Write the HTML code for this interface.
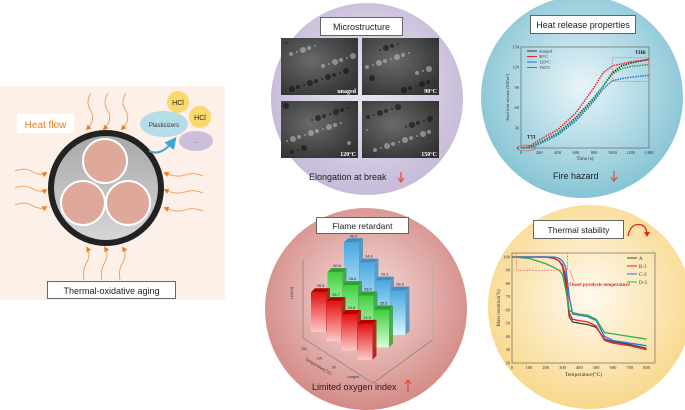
<!DOCTYPE html>
<html><head><meta charset="utf-8"><style>
html,body{margin:0;padding:0;background:#fff;width:685px;height:410px;overflow:hidden;font-family:"Liberation Sans",sans-serif}
svg{display:block}
</style></head><body>
<svg id="root" width="685" height="410" viewBox="0 0 685 410" xmlns="http://www.w3.org/2000/svg">
<defs>
<radialGradient id="gPurple" cx="50%" cy="45%" r="55%"><stop offset="0" stop-color="#ebe6f1"/><stop offset="1" stop-color="#c6bad8"/></radialGradient>
<radialGradient id="gTeal" cx="50%" cy="45%" r="55%"><stop offset="0" stop-color="#e8f5f8"/><stop offset="1" stop-color="#86c4d5"/></radialGradient>
<radialGradient id="gRed" cx="50%" cy="45%" r="55%"><stop offset="0" stop-color="#f6e0de"/><stop offset="1" stop-color="#d48a86"/></radialGradient>
<radialGradient id="gYel" cx="50%" cy="45%" r="55%"><stop offset="0" stop-color="#fffaf0"/><stop offset="1" stop-color="#f8d88c"/></radialGradient>
<radialGradient id="gSem" cx="40%" cy="40%" r="70%"><stop offset="0" stop-color="#6a6a6a"/><stop offset="1" stop-color="#333"/></radialGradient>
<linearGradient id="gCable" x1="0" y1="0" x2="0" y2="1"><stop offset="0" stop-color="#a9a9a9"/><stop offset="1" stop-color="#d6d6d6"/></linearGradient>
<linearGradient id="bR" x1="0" y1="0" x2="0" y2="1"><stop offset="0" stop-color="#e31010"/><stop offset="1" stop-color="#ffc8c8"/></linearGradient>
<linearGradient id="bG" x1="0" y1="0" x2="0" y2="1"><stop offset="0" stop-color="#3fcf3f"/><stop offset="1" stop-color="#d4ffd4"/></linearGradient>
<linearGradient id="bB" x1="0" y1="0" x2="0" y2="1"><stop offset="0" stop-color="#4aa8e0"/><stop offset="1" stop-color="#d8f4ff"/></linearGradient>
<marker id="ah" markerWidth="6" markerHeight="6" refX="4" refY="3" orient="auto"><path d="M0,0 L6,3 L0,6 z" fill="#ef7d22"/></marker>
<marker id="ahb" markerWidth="6" markerHeight="6" refX="4" refY="3" orient="auto"><path d="M0,0 L6,3 L0,6 z" fill="#3aa8d0"/></marker>
</defs>

<g>
<rect x="0" y="86" width="225" height="214" fill="#fcf0e8"/>
<g fill="none" stroke="#f29a55" stroke-width="0.9">
<path d="M91,93 q-6,10 0,18 q5,9 -4,18" marker-end="url(#ah)"/>
<path d="M108,93 q-6,10 0,18 q5,9 -4,18" marker-end="url(#ah)"/>
<path d="M126,93 q-6,10 0,18 q5,9 -4,18" marker-end="url(#ah)"/>
<path d="M15,171 q10,-4 18,1 q8,4 13,1" marker-end="url(#ah)"/>
<path d="M15,188 q10,-4 18,1 q8,4 13,1" marker-end="url(#ah)"/>
<path d="M15,205 q10,-4 18,1 q8,4 13,1" marker-end="url(#ah)"/>
<path d="M203,176 q-10,-4 -18,-1 q-8,3 -20,-2" marker-end="url(#ah)"/>
<path d="M203,193 q-10,-4 -18,-1 q-8,3 -20,-2" marker-end="url(#ah)"/>
<path d="M203,211 q-10,-4 -18,-1 q-8,3 -20,-2" marker-end="url(#ah)"/>
<path d="M84,280 q-2,-10 3,-18 q4,-8 0,-14" marker-end="url(#ah)"/>
<path d="M102,280 q-2,-10 3,-18 q4,-8 0,-14" marker-end="url(#ah)"/>
<path d="M120,280 q-2,-10 3,-18 q4,-8 0,-14" marker-end="url(#ah)"/>
</g>
<circle cx="106" cy="188" r="58" fill="#222"/>
<circle cx="106" cy="188" r="52" fill="url(#gCable)"/>
<circle cx="105" cy="161" r="22" fill="#dea99a" stroke="#fff" stroke-width="2"/>
<circle cx="83" cy="203" r="22" fill="#dea99a" stroke="#fff" stroke-width="2"/>
<circle cx="128" cy="203" r="22" fill="#dea99a" stroke="#fff" stroke-width="2"/>
<rect x="17" y="114" width="57" height="19" fill="#fff"/>
<text x="45.5" y="128" font-size="10" fill="#ef7d22" text-anchor="middle">Heat flow</text>
<path d="M149,151 q12,6 25,-11" fill="none" stroke="#3aa8d0" stroke-width="2" marker-end="url(#ahb)"/>
<ellipse cx="164" cy="124" rx="24" ry="13" fill="#b6dce8"/>
<text x="164" y="127" font-size="6" fill="#333" text-anchor="middle">Plasticizers</text>
<circle cx="178" cy="102" r="11" fill="#fbd86a"/>
<text x="178" y="105" font-size="7" fill="#222" text-anchor="middle">HCl</text>
<circle cx="200" cy="117" r="11" fill="#fbd86a"/>
<text x="200" y="120" font-size="7" fill="#222" text-anchor="middle">HCl</text>
<ellipse cx="196" cy="141" rx="17" ry="10" fill="#cbbfdc"/>
<text x="196" y="143" font-size="5" fill="#555" text-anchor="middle">...</text>
<rect x="47.5" y="281.5" width="128" height="17" fill="#fff" stroke="#444" stroke-width="0.8"/>
<text x="111.5" y="294" font-size="9" fill="#222" text-anchor="middle">Thermal-oxidative aging</text>
</g>

<circle cx="367" cy="99" r="96" fill="url(#gPurple)"/>
<circle cx="582" cy="97" r="101" fill="url(#gTeal)"/>
<circle cx="366" cy="309" r="101" fill="url(#gRed)"/>
<circle cx="590" cy="307" r="102" fill="url(#gYel)"/>

<g>
<rect x="320.5" y="17.5" width="82" height="18" fill="#fff" stroke="#444" stroke-width="0.8"/>
<text x="361.5" y="30" font-size="9" fill="#222" text-anchor="middle">Microstructure</text>
<g id="sem"></g>
<text x="309" y="180" font-size="9" fill="#222">Elongation at break</text>
<path d="M401,172 v9 M398,178 l3,4 l3,-4" stroke="#e8492f" stroke-width="1.2" fill="none"/>
</g>

<g>
<rect x="530.5" y="15.5" width="105" height="18" fill="#fff" stroke="#444" stroke-width="0.8"/>
<text x="583" y="28" font-size="9" fill="#222" text-anchor="middle">Heat release properties</text>
<g id="hrr"></g>
<text x="553" y="179" font-size="9" fill="#222">Fire hazard</text>
<path d="M614,171 v9 M611,177 l3,4 l3,-4" stroke="#e8492f" stroke-width="1.2" fill="none"/>
</g>

<g>
<g id="loi"></g>
<rect x="316.5" y="217.5" width="92" height="16" fill="#fff" stroke="#444" stroke-width="0.8"/>
<text x="362.5" y="229" font-size="8.5" fill="#222" text-anchor="middle">Flame retardant</text>
<text x="312" y="390" font-size="9" fill="#222">Limited oxygen index</text>
<path d="M408,392 v-11 M405,384 l3,-4 l3,4" stroke="#e8492f" stroke-width="1.2" fill="none"/>
</g>

<g>
<rect x="533.5" y="220.5" width="90" height="18" fill="#fff" stroke="#444" stroke-width="0.8"/>
<text x="578.5" y="233" font-size="8.5" fill="#222" text-anchor="middle">Thermal stability</text>
<path d="M628,236 q3,-14 14,-11 q4,2 5,8" fill="none" stroke="#e8241c" stroke-width="1.3"/>
<path d="M644,232 l3,5 l3,-5 z" fill="#e8241c"/>
<g id="tga"></g>
</g>
</svg>

<script>
const NS="http://www.w3.org/2000/svg";
function mk(tag,attrs,parent,txt){const e=document.createElementNS(NS,tag);for(const k in attrs)e.setAttribute(k,attrs[k]);if(txt!==undefined)e.textContent=txt;parent.appendChild(e);return e;}

const semLabels=["unaged","90°C","120°C","150°C"];
const sem=document.getElementById('sem');
semLabels.forEach((lab,i)=>{
  const x=[281,362][i%2], y=[38,101][Math.floor(i/2)];
  const r=mk('rect',{x:x,y:y,width:77,height:57,fill:'url(#gSem)'},sem);
  
  
  for(let k=0;k<22;k++){
    const c=mk('circle',{cx:x+5+((k*37+i*13)%68),cy:y+5+((k*23+i*7)%48),r:1+(k%3),fill:(k%2?'#bbb':'#111'),opacity:0.6},sem);
    
    
  }
  const t=mk('text',{x:x+75,y:y+55,'font-size':6,fill:'#fff','text-anchor':'end','font-family':'Liberation Serif, serif','font-weight':'bold'},sem,lab);
  
  
});

const hrTimes=[0,100,200,400,600,800,900,1000,1100,1200,1400];
const hrUnaged=[0,1,8,22,45,75,92,112,122,126,132];
const hr90=[0,3,12,27,52,90,112,122,125,128,131];
const hr120=[0,0,6,19,40,70,88,100,103,105,108];
const hr150=[0,1,8,21,43,73,92,110,118,121,124];
const hrXTicks=[0,200,400,600,800,1000,1200,1400];
const hrYTicks=[0,30,60,90,120,150];
const hrNames=["unaged","90°C","120°C","150°C"];
(function(){
  const g=document.getElementById('hrr');
  const X0=521,X1=649,Y0=148,Y1=47;
  const sx=v=>X0+(v/1400)*(X1-X0), sy=v=>Y0-(v/150)*(Y0-Y1);
  const fr=mk('rect',{x:X0,y:Y1,width:X1-X0,height:Y0-Y1,fill:'none',stroke:'#555','stroke-width':0.6},g);
  
  hrXTicks.forEach(v=>{const t=mk('text',{x:sx(v),y:Y0+6,'font-size':4.5,'text-anchor':'middle',fill:'#333','font-family':'Liberation Serif, serif'},g,v);});
  hrYTicks.forEach(v=>{const t=mk('text',{x:X0-2,y:sy(v)+1.5,'font-size':4.5,'text-anchor':'end',fill:'#333','font-family':'Liberation Serif, serif'},g,v);});
  const xt=mk('text',{x:(X0+X1)/2,y:Y0+12,'font-size':5,'text-anchor':'middle',fill:'#333','font-family':'Liberation Serif, serif'},g,'Time (s)');
  const yt=mk('text',{x:0,y:0,'font-size':4.5,'text-anchor':'middle',fill:'#333','font-family':'Liberation Serif, serif',transform:`translate(${X0-12},${(Y0+Y1)/2}) rotate(-90)`},g,'Total heat release (MJ/m²)');
  const series=[hrUnaged,hr90,hr120,hr150], cols=['#333','#e8242a','#2a72e0','#22a04a'];
  series.forEach((s,i)=>{
    const p=mk('polyline',{points:s.map((v,k)=>sx(hrTimes[k])+','+sy(v)).join(' '),fill:'none',stroke:cols[i],'stroke-width':1.5,'stroke-dasharray':'1.5 1'},g);
    
    const ly=Y1+4+i*5.5;
    const l=mk('line',{x1:X0+6,y1:ly,x2:X0+16,y2:ly,stroke:cols[i],'stroke-width':1},g);
    const lt=mk('text',{x:X0+18,y:ly+1.5,'font-size':4.5,fill:'#333','font-family':'Liberation Serif, serif'},g,hrNames[i]);
  });
  const box=mk('rect',{x:sx(1000),y:sy(134),width:X1-sx(1000),height:sy(99)-sy(134),fill:'none',stroke:'#e55','stroke-width':0.5,'stroke-dasharray':'2 1'},g);
  const e=mk('ellipse',{cx:sx(60),cy:sy(0),rx:9,ry:3,fill:'none',stroke:'#e33','stroke-width':0.6},g);
  const t1=mk('text',{x:X0+6,y:sy(14),'font-size':5,fill:'#222','font-weight':'bold','font-family':'Liberation Serif, serif'},g,'TTI');
  const t2=mk('text',{x:X1-14,y:Y1+7,'font-size':5,fill:'#222','font-weight':'bold','font-family':'Liberation Serif, serif'},g,'THR');
})();

const loiTemps=["unaged","90","120","150"];
const loiRed=[26.5,26.7,24.8,24.5];
const loiGreen=[30.6,28.6,28.0,25.5];
const loiBlue=[40.0,34.0,29.3,28.9];
(function(){
  const g=document.getElementById('loi');
  const ox=311,oy=332, cdx=15.5, cdy=9.3, rdx=16.5, rdy=-12.5, k=1.85, v0=5, w=15, dep=4;
  const hOf=v=>k*(v-v0);
  const zx=ox-8, zy=oy+6;
  const ax=mk('polyline',{points:`${zx},${zy-78} ${zx},${zy} ${zx+4*cdx+8},${zy+4*cdy+8} ${zx+4*cdx+8+3*rdx+10},${zy+4*cdy+8+3*rdy-6}`,fill:'none',stroke:'#777','stroke-width':0.6},g);
  
  const bw=mk('polyline',{points:`${zx},${zy-78} ${zx+3*rdx+10},${zy+3*rdy-84} ${zx+3*rdx+10+4*cdx+8},${zy+3*rdy-84+4*cdy+8} ${zx+4*cdx+8+3*rdx+10},${zy+4*cdy+8+3*rdy-6}`,fill:'none',stroke:'#aaa','stroke-width':0.4},g);
  
  const rows=[[loiBlue,'url(#bB)','#3e8fc0'],[loiGreen,'url(#bG)','#2f9f2f'],[loiRed,'url(#bR)','#b00000']];
  rows.forEach((row,ri)=>{
    const r=2-ri;
    row[0].forEach((v,j)=>{
      const bx=ox+j*cdx+r*rdx, by=oy+j*cdy+r*rdy, h=hOf(v);
      const side=mk('polygon',{points:`${bx+w},${by} ${bx+w+dep},${by-dep} ${bx+w+dep},${by-h-dep} ${bx+w},${by-h}`,fill:row[2],opacity:0.8},g);
      
      const front=mk('rect',{x:bx,y:by-h,width:w,height:h,fill:row[1]},g);
      
      const top=mk('polygon',{points:`${bx},${by-h} ${bx+dep},${by-h-dep} ${bx+w+dep},${by-h-dep} ${bx+w},${by-h}`,fill:row[2]},g);
      
      const t=mk('text',{x:bx+w/2+2,y:by-h-5,'font-size':4,'text-anchor':'middle',fill:'#222'},g,v.toFixed(1));
      
    });
  });
  loiTemps.forEach((tl,j)=>{
    const t=mk('text',{x:zx-2+(3-j)*cdx,y:zy+12+(3-j)*cdy,'font-size':3.5,fill:'#333'},g,tl);
    
  });
  const yl=mk('text',{x:0,y:0,'font-size':4,fill:'#333','text-anchor':'middle',transform:`translate(${zx-10},${zy-45}) rotate(-90)`},g,'LOI(%)');
  const xl=mk('text',{x:0,y:0,'font-size':4,fill:'#333',transform:`translate(${zx+2},${zy+22}) rotate(30)`},g,'Temperature(°C)');
})();

const tgaTemps=[0,100,200,250,280,300,320,340,360,400,450,500,550,600,700,800];
const tgaA=[100,100,100,99,97,93,80,55,51,50,49,47,38,36,34,31];
const tgaB3=[100,100,100,99,97,94,86,58,53,52,51,48,37,35,33,30];
const tgaC3=[100,100,100,100,99,97,92,70,57,56,55,52,40,37,35,33];
const tgaD3=[100,99,95,92,90,87,75,60,58,57,56,53,43,42,40,38];
const tgaXTicks=[0,100,200,300,400,500,600,700,800];
const tgaYTicks=[20,30,40,50,60,70,80,90,100];
const tgaNames=["A","B-3","C-3","D-3"];
(function(){
  const g=document.getElementById('tga');
  const X0=512,X1=655,Y0=363,Y1=253;
  const sx=v=>X0+(v/850)*(X1-X0), sy=v=>Y0-((v-20)/83)*(Y0-Y1);
  const fr=mk('rect',{x:X0,y:Y1,width:X1-X0,height:Y0-Y1,fill:'none',stroke:'#555','stroke-width':0.6},g);
  
  tgaXTicks.forEach(v=>{const t=mk('text',{x:sx(v),y:Y0+6,'font-size':4.5,'text-anchor':'middle',fill:'#333','font-family':'Liberation Serif, serif'},g,v);});
  tgaYTicks.forEach(v=>{const t=mk('text',{x:X0-2,y:sy(v)+1.5,'font-size':4.5,'text-anchor':'end',fill:'#333','font-family':'Liberation Serif, serif'},g,v);});
  const xt=mk('text',{x:(X0+X1)/2,y:Y0+13,'font-size':5.5,'text-anchor':'middle',fill:'#333','font-family':'Liberation Serif, serif'},g,'Temperature(°C)');
  const yt=mk('text',{x:0,y:0,'font-size':5,'text-anchor':'middle',fill:'#333','font-family':'Liberation Serif, serif',transform:`translate(${X0-12},${(Y0+Y1)/2}) rotate(-90)`},g,'Mass retention(%)');
  const series=[tgaA,tgaB3,tgaC3,tgaD3], cols=['#444','#e8242a','#2a72e0','#2fae4a'];
  series.forEach((s,i)=>{
    const p=mk('polyline',{points:s.map((v,k)=>sx(tgaTemps[k])+','+sy(v)).join(' '),fill:'none',stroke:cols[i],'stroke-width':1.3},g);
    
    const ly=Y1+5+i*8;
    const l=mk('line',{x1:X1-28,y1:ly,x2:X1-18,y2:ly,stroke:cols[i],'stroke-width':1},g);
    const lt=mk('text',{x:X1-16,y:ly+1.8,'font-size':5,fill:'#333','font-family':'Liberation Serif, serif'},g,tgaNames[i]);
  });
  const box=mk('rect',{x:sx(25),y:sy(103),width:sx(330)-sx(25),height:sy(90)-sy(103),fill:'none',stroke:'#e55','stroke-width':0.6,'stroke-dasharray':'2 1'},g);
  const ot=mk('text',{x:sx(340),y:sy(78),'font-size':5,fill:'#e8242a','font-weight':'bold','font-family':'Liberation Serif, serif'},g,'Onset pyrolysis temperature');
  const ol=mk('line',{x1:sx(370),y1:sy(81),x2:sx(345),y2:sy(90),stroke:'#e55','stroke-width':0.5},g);
})();
</script>
</body></html>
